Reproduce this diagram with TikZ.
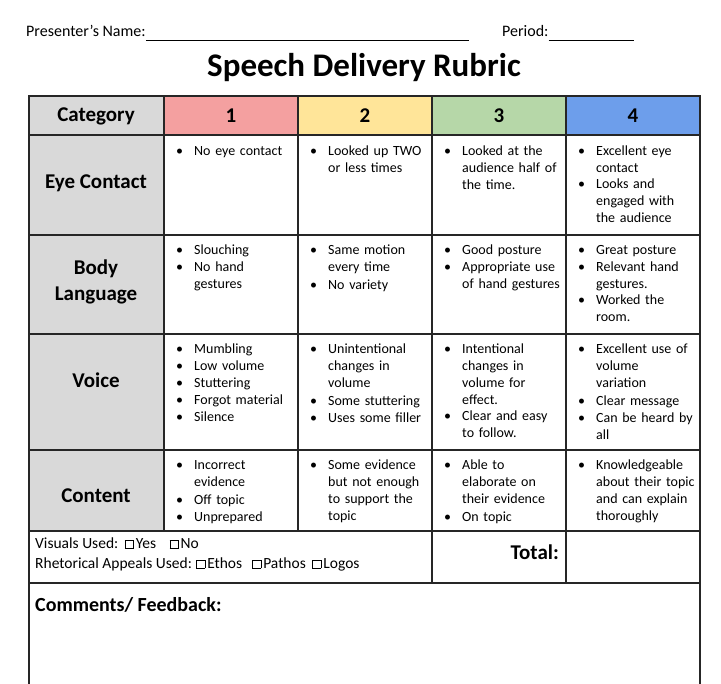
\documentclass[tikz,border=0pt]{standalone}
\usepackage{fontspec}
\setmainfont{Carlito}
\definecolor{cred}{HTML}{F4A0A0}
\definecolor{cyel}{HTML}{FFE599}
\definecolor{cgrn}{HTML}{B6D7A8}
\definecolor{cblu}{HTML}{6D9EEB}
\definecolor{cgry}{HTML}{D9D9D9}
\newcommand\bul[1]{\par\noindent\makebox[20pt][l]{\hspace{2pt}•}\parbox[t]{104pt}{\raggedright #1\strut}}
\tikzset{cell/.style={anchor=north west,inner sep=0pt,text width=124pt,align=left,font=\fontsize{14}{17}\selectfont},
hdr/.style={font=\bfseries\fontsize{21}{22}\selectfont},
cat/.style={font=\bfseries\fontsize{21}{26}\selectfont,align=center},
grid/.style={draw=black!85,line width=1.2pt}}
\begin{document}
\begin{tikzpicture}[x=1pt,y=-1pt]
\useasboundingbox (0,0) rectangle (721,684);
\fill[white] (0,0) rectangle (721,684);
\node[anchor=west,inner sep=0pt,font=\fontsize{16}{18}\selectfont] (pn) at (26,31) {Presenter's Name:};
\coordinate (pnend) at (469,40);
\draw[line width=0.8pt] (pn.east |- pnend) -- (pnend);
\node[anchor=west,inner sep=0pt,font=\fontsize{16}{18}\selectfont] (pe) at (502,31) {Period:};
\coordinate (peend) at (634,40);
\draw[line width=0.8pt] (pe.east |- peend) -- (peend);
\node[font=\bfseries\fontsize{33}{35}\selectfont] (title) at (364,68) {Speech Delivery Rubric};
\fill[cgry] (29,96) rectangle (164,531);
\fill[cred] (164,96) rectangle (298,135);
\fill[cyel] (298,96) rectangle (432,135);
\fill[cgrn] (432,96) rectangle (566,135);
\fill[cblu] (566,96) rectangle (700,135);
\draw[grid] (29,684) -- (29,96) -- (700,96) -- (700,684);
\foreach \y in {135,235,334,450,531,583} \draw[grid] (29,\y) -- (700,\y);
\foreach \x in {164,298} \draw[grid] (\x,96) -- (\x,531);
\draw[grid] (432,96) -- (432,583);
\draw[grid] (566,96) -- (566,583);
\node[hdr] (h0) at (96,116) {Category};
\node[hdr] (h1) at (231,116) {1};
\node[hdr] (h2) at (365,116) {2};
\node[hdr] (h3) at (499,116) {3};
\node[hdr] (h4) at (633,116) {4};
\node[cat] (c1) at (96,183) {Eye Contact};
\node[cat] (c2) at (96,282) {Body\\Language};
\node[cat] (c3) at (96,380) {Voice};
\node[cat] (c4) at (96,496) {Content};
\node[cell] (e1) at (174,138) {\bul{No eye contact}};
\node[cell] (e2) at (308,138) {\bul{Looked up TWO\\or less times}};
\node[cell] (e3) at (442,138) {\bul{Looked at the\\audience half of\\the time.}};
\node[cell] (e4) at (576,138) {\bul{Excellent eye\\contact}\bul{Looks and\\engaged with\\the audience}};
\node[cell] (b1) at (174,237) {\bul{Slouching}\bul{No hand\\gestures}};
\node[cell] (b2) at (308,237) {\bul{Same motion\\every time}\bul{No variety}};
\node[cell] (b3) at (442,237) {\bul{Good posture}\bul{Appropriate use\\of hand gestures}};
\node[cell] (b4) at (576,237) {\bul{Great posture}\bul{Relevant hand\\gestures.}\bul{Worked the\\room.}};
\node[cell] (v1) at (174,336) {\bul{Mumbling}\bul{Low volume}\bul{Stuttering}\bul{Forgot material}\bul{Silence}};
\node[cell] (v2) at (308,336) {\bul{Unintentional\\changes in\\volume}\bul{Some stuttering}\bul{Uses some filler}};
\node[cell] (v3) at (442,336) {\bul{Intentional\\changes in\\volume for\\effect.}\bul{Clear and easy\\to follow.}};
\node[cell] (v4) at (576,336) {\bul{Excellent use of\\volume\\variation}\bul{Clear message}\bul{Can be heard by\\all}};
\node[cell] (t1) at (174,452) {\bul{Incorrect\\evidence}\bul{Off topic}\bul{Unprepared}};
\node[cell] (t2) at (308,452) {\bul{Some evidence\\but not enough\\to support the\\topic}};
\node[cell] (t3) at (442,452) {\bul{Able to\\elaborate on\\their evidence}\bul{On topic}};
\node[cell] (t4) at (576,452) {\bul{Knowledgeable\\about their topic\\and can explain\\thoroughly}};
\newcommand\cbx{\raisebox{0.5pt}{\framebox(8,8){}}\,}
\node[anchor=north west,inner sep=0pt,align=left,font=\fontsize{15.5}{20}\selectfont] (vis) at (35,538)
 {Visuals Used:\ \ \cbx Yes\ \ \ \ \cbx No\\Rhetorical Appeals Used: \cbx Ethos\ \ \ \cbx Pathos\ \ \cbx Logos};
\node[anchor=east,inner sep=0pt,font=\bfseries\fontsize{21}{22}\selectfont] (tot) at (559,552) {Total:};
\node[anchor=west,inner sep=0pt,font=\bfseries\fontsize{20}{22}\selectfont] (com) at (35,605) {Comments/ Feedback:};
\end{tikzpicture}
\end{document}
